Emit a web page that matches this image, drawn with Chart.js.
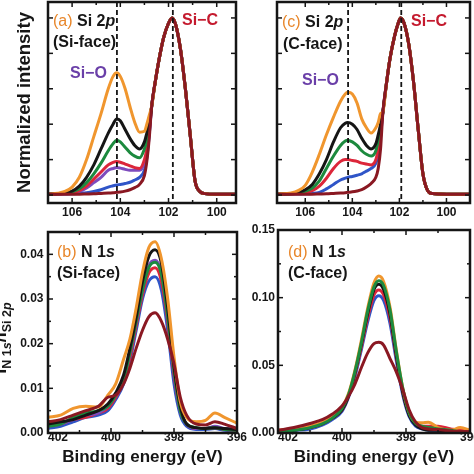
<!DOCTYPE html>
<html>
<head>
<meta charset="utf-8">
<script src="https://cdn.jsdelivr.net/npm/chart.js@4.4.0/dist/chart.umd.min.js"></script>
<style>
  body { margin: 0; width: 474px; height: 474px; overflow: hidden; background: #fff; position: relative; font-family: "Liberation Sans", Arial, sans-serif; }
  .panel { position: absolute; }
  .txt { position: absolute; white-space: nowrap; font-weight: bold; font-size: 16px; line-height: 16px; color: #161616; }
  .tag { color: #e8862a; font-weight: normal; }
  .sio { color: #6a3fa8; }
  .sic { color: #c41a2e; }
  #ratioTitle { position: absolute; left: -55px; top: 327px; width: 110px; height: 22px; line-height: 22px; text-align: center; transform: rotate(-90deg); font-weight: bold; font-size: 18px; color: #161616; white-space: nowrap; }
  #ratioTitle sub { font-size: 12.5px; }
</style>
</head>
<body>
<div class="panel" style="left:0;top:0;width:240px;height:240px"><canvas id="chartA"></canvas></div>
<div class="panel" style="left:240px;top:0;width:234px;height:240px"><canvas id="chartC"></canvas></div>
<div class="panel" style="left:0;top:220px;width:262px;height:254px"><canvas id="chartB"></canvas></div>
<div class="panel" style="left:240px;top:220px;width:234px;height:254px"><canvas id="chartD"></canvas></div>

<div class="txt" style="left:53px;top:13px"><span class="tag">(a)</span> Si 2<i>p</i></div>
<div class="txt" style="left:53px;top:34px">(Si-face)</div>
<div class="txt sio" style="left:70px;top:65px">Si−O</div>
<div class="txt sic" style="left:182px;top:12px">Si−C</div>

<div class="txt" style="left:282px;top:14px"><span class="tag">(c)</span> Si 2<i>p</i></div>
<div class="txt" style="left:283px;top:36px">(C-face)</div>
<div class="txt sio" style="left:302px;top:72px">Si−O</div>
<div class="txt sic" style="left:411px;top:13px">Si−C</div>

<div class="txt" style="left:57px;top:244px"><span class="tag">(b)</span> N 1<i>s</i></div>
<div class="txt" style="left:57px;top:265px">(Si-face)</div>

<div class="txt" style="left:288px;top:244px"><span class="tag">(d)</span> N 1<i>s</i></div>
<div class="txt" style="left:288px;top:265px">(C-face)</div>

<div id="ratioTitle">I<sub>N 1<i>s</i></sub>/I<sub>Si 2<i>p</i></sub></div>

<script>
const ORANGE = '#f0962e';
const BLACK = '#151515';
const GREEN = '#1c8a3e';
const RED = '#dc263a';
const PURPLE = '#7d4bbd';
const BLUE = '#2f55c8';
const MAROON = '#8a1822';

// (a) Si 2p, Si-face
const siEnergyA = [107.0, 106.6, 106.3, 106.0, 105.7, 105.4, 105.1, 104.8, 104.5, 104.3, 104.15, 104.0, 103.8, 103.6, 103.4, 103.2, 103.0, 102.9, 102.8,
  102.7, 102.55, 102.4, 102.2, 102.0, 101.85, 101.7, 101.5, 101.3, 101.1, 100.9, 100.7, 100.5, 100.0, 99.2];
const siFlankA = [0.50, 0.64, 0.76, 0.89, 0.97, 1.0, 0.96, 0.82, 0.6, 0.34, 0.08, 0.02, 0.008, 0.005, 0.005];
const siOrangeA = [0.005, 0.01, 0.02, 0.045, 0.1, 0.2, 0.33, 0.46, 0.6, 0.67, 0.69, 0.67, 0.6, 0.5, 0.41, 0.355, 0.36, 0.40, 0.45];
const siBlackA = [0.005, 0.008, 0.012, 0.022, 0.05, 0.1, 0.17, 0.26, 0.35, 0.4, 0.43, 0.42, 0.37, 0.32, 0.28, 0.26, 0.3, 0.35, 0.41];
const siGreenA = [0.005, 0.007, 0.01, 0.018, 0.035, 0.07, 0.12, 0.18, 0.25, 0.29, 0.31, 0.3, 0.27, 0.24, 0.22, 0.21, 0.26, 0.31, 0.38];
const siRedA = [0.005, 0.006, 0.008, 0.012, 0.025, 0.05, 0.09, 0.13, 0.17, 0.185, 0.19, 0.185, 0.175, 0.165, 0.155, 0.15, 0.2, 0.26, 0.36];
const siPurpleA = [0.005, 0.006, 0.007, 0.01, 0.02, 0.04, 0.07, 0.1, 0.14, 0.15, 0.155, 0.152, 0.145, 0.14, 0.14, 0.14, 0.18, 0.24, 0.35];
const siBlueA = [0.005, 0.005, 0.006, 0.007, 0.01, 0.013, 0.02, 0.03, 0.045, 0.052, 0.057, 0.06, 0.065, 0.072, 0.085, 0.1, 0.14, 0.21, 0.34];
const siMaroonA = [0.005, 0.005, 0.005, 0.005, 0.005, 0.006, 0.007, 0.009, 0.011, 0.013, 0.015, 0.017, 0.022, 0.03, 0.042, 0.06, 0.11, 0.19, 0.32];
const peakLinesA = [104.14, 101.82];

// (c) Si 2p, C-face
const siEnergyC = [107.2, 106.6, 106.3, 106.0, 105.7, 105.4, 105.1, 104.8, 104.5, 104.3, 104.2, 104.0, 103.8, 103.6, 103.4, 103.2, 103.0, 102.9, 102.8,
  102.7, 102.55, 102.4, 102.2, 102.05, 101.95, 101.8, 101.6, 101.4, 101.2, 101.0, 100.8, 100.6, 100.0, 99.0];
const siFlankC = [0.47, 0.63, 0.77, 0.9, 0.97, 1.0, 0.97, 0.85, 0.64, 0.37, 0.12, 0.025, 0.008, 0.005, 0.005];
const siOrangeC = [0.005, 0.012, 0.025, 0.055, 0.13, 0.23, 0.34, 0.44, 0.53, 0.57, 0.58, 0.57, 0.52, 0.43, 0.38, 0.35, 0.38, 0.41, 0.46];
const siBlackC = [0.005, 0.008, 0.015, 0.03, 0.06, 0.12, 0.2, 0.3, 0.38, 0.405, 0.41, 0.4, 0.37, 0.32, 0.28, 0.26, 0.29, 0.34, 0.4];
const siGreenC = [0.005, 0.007, 0.012, 0.022, 0.04, 0.08, 0.15, 0.22, 0.28, 0.305, 0.31, 0.3, 0.28, 0.25, 0.23, 0.22, 0.25, 0.31, 0.38];
const siRedC = [0.005, 0.006, 0.009, 0.015, 0.025, 0.05, 0.095, 0.15, 0.19, 0.2, 0.2, 0.195, 0.19, 0.18, 0.175, 0.17, 0.2, 0.26, 0.35];
const siBlueC = [0.005, 0.005, 0.006, 0.007, 0.009, 0.015, 0.035, 0.06, 0.085, 0.095, 0.1, 0.105, 0.112, 0.12, 0.135, 0.15, 0.18, 0.23, 0.33];
const siMaroonC = [0.005, 0.005, 0.005, 0.005, 0.005, 0.006, 0.007, 0.009, 0.011, 0.013, 0.015, 0.018, 0.023, 0.03, 0.045, 0.065, 0.1, 0.15, 0.26];
const peakLinesC = [104.18, 101.92];

// (b) N 1s, Si-face
const nEnergyB = [402, 401.6, 401.2, 400.8, 400.4, 400.1, 399.85, 399.6, 399.4, 399.2, 399.0, 398.8, 398.6, 398.4, 398.2, 398.0, 397.8, 397.6, 397.3, 397.0, 396.7, 396.4, 396.0];
const nOrangeB = [0.0035, 0.004, 0.0055, 0.006, 0.0058, 0.0085, 0.011, 0.0165, 0.021, 0.028, 0.036, 0.0415, 0.0428, 0.039, 0.03, 0.017, 0.007, 0.0035, 0.0025, 0.0028, 0.0045, 0.0035, 0.0022];
const nBlackB = [0.002, 0.0025, 0.003, 0.004, 0.005, 0.0065, 0.009, 0.013, 0.019, 0.026, 0.034, 0.0395, 0.041, 0.038, 0.028, 0.015, 0.006, 0.002, 0.0012, 0.001, 0.0012, 0.001, 0.0008];
const nGreenB = [0.0015, 0.002, 0.0035, 0.0045, 0.005, 0.006, 0.0085, 0.012, 0.018, 0.025, 0.032, 0.037, 0.0382, 0.0355, 0.026, 0.014, 0.005, 0.002, 0.0012, 0.001, 0.0012, 0.0008, 0.0006];
const nRedB = [0.0015, 0.002, 0.003, 0.0035, 0.0045, 0.0055, 0.008, 0.0115, 0.017, 0.024, 0.031, 0.0358, 0.037, 0.034, 0.025, 0.013, 0.005, 0.002, 0.001, 0.001, 0.0012, 0.0008, 0.0006];
const nPurpleB = [0.0015, 0.002, 0.003, 0.004, 0.0045, 0.006, 0.0085, 0.012, 0.018, 0.025, 0.032, 0.0375, 0.0387, 0.036, 0.027, 0.014, 0.005, 0.002, 0.001, 0.001, 0.0015, 0.001, 0.0008];
const nBlueB = [0.001, 0.0015, 0.0025, 0.0035, 0.004, 0.005, 0.0075, 0.011, 0.016, 0.023, 0.03, 0.034, 0.035, 0.032, 0.023, 0.011, 0.004, 0.0015, 0.0008, 0.0008, 0.001, 0.0006, 0.0005];
const nMaroonB = [0.0025, 0.003, 0.004, 0.005, 0.006, 0.008, 0.0085, 0.011, 0.0145, 0.019, 0.023, 0.026, 0.0269, 0.025, 0.021, 0.0155, 0.008, 0.004, 0.002, 0.0018, 0.0025, 0.002, 0.001];

// (d) N 1s, C-face
const nEnergyD = [402, 401.5, 401.0, 400.6, 400.3, 400.0, 399.8, 399.6, 399.4, 399.2, 399.0, 398.85, 398.7, 398.5, 398.3, 398.1, 397.9, 397.7, 397.5, 397.3, 397.0, 396.6, 396.3, 396.0];
const nOrangeD = [0.002, 0.003, 0.005, 0.008, 0.012, 0.019, 0.029, 0.046, 0.068, 0.092, 0.111, 0.116, 0.112, 0.093, 0.061, 0.033, 0.015, 0.008, 0.0075, 0.008, 0.004, 0.002, 0.004, 0.002];
const nGreenD = [0.001, 0.002, 0.004, 0.007, 0.011, 0.018, 0.028, 0.045, 0.066, 0.09, 0.108, 0.1125, 0.109, 0.091, 0.06, 0.033, 0.015, 0.007, 0.005, 0.004, 0.003, 0.002, 0.001, 0.001];
const nBlackD = [0.001, 0.002, 0.004, 0.007, 0.011, 0.017, 0.027, 0.044, 0.065, 0.088, 0.106, 0.11, 0.106, 0.088, 0.057, 0.03, 0.013, 0.006, 0.003, 0.002, 0.002, 0.001, 0.001, 0.001];
const nRedD = [0.002, 0.003, 0.004, 0.007, 0.011, 0.017, 0.027, 0.043, 0.063, 0.085, 0.102, 0.1057, 0.102, 0.085, 0.056, 0.03, 0.014, 0.007, 0.005, 0.005, 0.005, 0.003, 0.002, 0.002];
const nBlueD = [0.001, 0.002, 0.003, 0.006, 0.01, 0.016, 0.026, 0.041, 0.061, 0.082, 0.098, 0.1015, 0.098, 0.081, 0.053, 0.028, 0.012, 0.005, 0.003, 0.002, 0.002, 0.001, 0.001, 0.001];
const nMaroonD = [0.002, 0.004, 0.007, 0.01, 0.014, 0.02, 0.027, 0.036, 0.048, 0.059, 0.066, 0.067, 0.065, 0.055, 0.045, 0.032, 0.017, 0.008, 0.004, 0.003, 0.0025, 0.0015, 0.0012, 0.001];

// ticks
const siMajor = [106, 104, 102, 100];
const siMinor = [105, 103, 101];
const siYTicks = [0, 0.2, 0.4, 0.6, 0.8, 1.0];
const nMajor = [402, 400, 398, 396];
const nMinor = [401, 399, 397];
const nYMajorB = [0, 0.01, 0.02, 0.03, 0.04];
const nYMinorB = [0.005, 0.015, 0.025, 0.035];
const nYMajorD = [0, 0.05, 0.10, 0.15];
const nYMinorD = [0.025, 0.075, 0.125];

const FONT = '"Liberation Sans", Arial, sans-serif';
Chart.defaults.font.family = FONT;

// box, inward ticks on four sides, tick labels and dashed peak lines
const axisFrame = {
  id: 'axisFrame',
  afterDatasetsDraw(chart, args, opts) {
    const { ctx, chartArea: area, scales: { x, y } } = chart;
    const line = (x1, y1, x2, y2) => { ctx.beginPath(); ctx.moveTo(x1, y1); ctx.lineTo(x2, y2); ctx.stroke(); };
    ctx.save();
    ctx.strokeStyle = '#151515';

    ctx.lineWidth = 1.8;
    ctx.setLineDash([5, 3]);
    (opts.dashed || []).forEach(v => {
      const px = x.getPixelForValue(v);
      line(px, area.top, px, area.bottom);
    });
    ctx.setLineDash([]);

    ctx.lineWidth = 1.5;
    const xTicks = (vals, len) => vals.forEach(v => {
      const px = x.getPixelForValue(v);
      line(px, area.bottom, px, area.bottom - len);
      line(px, area.top, px, area.top + len);
    });
    const yTicks = (vals, len) => vals.forEach(v => {
      const py = y.getPixelForValue(v);
      line(area.left, py, area.left + len, py);
      line(area.right, py, area.right - len, py);
    });
    xTicks(opts.xMajor, 5);
    xTicks(opts.xMinor, 3);
    yTicks(opts.yMajor, 5);
    yTicks(opts.yMinor || [], 3);

    ctx.lineWidth = 2.5;
    ctx.strokeRect(area.left, area.top, area.right - area.left, area.bottom - area.top);

    ctx.fillStyle = '#161616';
    ctx.font = 'bold 12px ' + FONT;
    ctx.textBaseline = 'middle';
    opts.xMajor.forEach(v => {
      const px = x.getPixelForValue(v);
      ctx.textAlign = Math.abs(px - area.left) < 2 ? 'left' : 'center';
      ctx.fillText(String(v), px, area.bottom + opts.xGap);
    });
    if (opts.yLabels) {
      ctx.textAlign = 'right';
      opts.yMajor.forEach(v => {
        ctx.fillText(v.toFixed(2), area.left - opts.yGap, y.getPixelForValue(v));
      });
    }
    ctx.restore();
  }
};

function series(energy, values, color) {
  return {
    data: energy.map((e, i) => ({ x: e, y: values[i] })),
    borderColor: color,
    borderWidth: 3,
    pointRadius: 0,
    fill: false,
    cubicInterpolationMode: 'monotone'
  };
}

function makePanel(id, cfg) {
  return new Chart(document.getElementById(id), {
    type: 'line',
    data: { datasets: cfg.datasets },
    options: {
      responsive: true,
      maintainAspectRatio: false,
      animation: false,
      layout: { padding: cfg.padding },
      plugins: { legend: { display: false }, tooltip: { enabled: false }, axisFrame: cfg.frame },
      scales: {
        x: {
          type: 'linear', reverse: true, min: cfg.xMin, max: cfg.xMax,
          ticks: { display: false }, grid: { display: false }, border: { display: false },
          title: cfg.xTitle || { display: false },
          afterFit: s => { s.height = cfg.xHeight; }
        },
        y: {
          type: 'linear', min: cfg.yMin, max: cfg.yMax,
          ticks: { display: false }, grid: { display: false }, border: { display: false },
          title: cfg.yTitle || { display: false },
          afterFit: s => { s.width = cfg.yWidth; }
        }
      }
    },
    plugins: [axisFrame]
  });
}

const energyTitle = {
  display: true, text: 'Binding energy (eV)', color: '#161616',
  font: { size: 17, weight: 'bold' }, padding: { top: 0, bottom: 6 }
};

makePanel('chartA', {
  datasets: [
    series(siEnergyA, siMaroonA.concat(siFlankA), MAROON),
    series(siEnergyA, siOrangeA.concat(siFlankA), ORANGE),
    series(siEnergyA, siBlackA.concat(siFlankA), BLACK),
    series(siEnergyA, siGreenA.concat(siFlankA), GREEN),
    series(siEnergyA, siRedA.concat(siFlankA), RED),
    series(siEnergyA, siPurpleA.concat(siFlankA), PURPLE),
    series(siEnergyA, siBlueA.concat(siFlankA), BLUE)
  ],
  padding: { left: 0, top: 2, right: 4, bottom: 0 },
  xMin: 99.2, xMax: 107.0, yMin: -0.045, yMax: 1.09,
  xHeight: 37, yWidth: 48,
  yTitle: { display: true, text: 'Normalized intensity', color: '#161616', font: { size: 18.5, weight: 'bold' }, padding: { top: 14, bottom: 0 } },
  frame: { dashed: peakLinesA, xMajor: siMajor, xMinor: siMinor, yMajor: siYTicks, xGap: 9.5 }
});

makePanel('chartC', {
  datasets: [
    series(siEnergyC, siMaroonC.concat(siFlankC), MAROON),
    series(siEnergyC, siOrangeC.concat(siFlankC), ORANGE),
    series(siEnergyC, siBlackC.concat(siFlankC), BLACK),
    series(siEnergyC, siGreenC.concat(siFlankC), GREEN),
    series(siEnergyC, siRedC.concat(siFlankC), RED),
    series(siEnergyC, siBlueC.concat(siFlankC), BLUE)
  ],
  padding: { left: 0, top: 2, right: 4, bottom: 0 },
  xMin: 99.0, xMax: 107.2, yMin: -0.045, yMax: 1.09,
  xHeight: 37, yWidth: 37,
  frame: { dashed: peakLinesC, xMajor: siMajor, xMinor: siMinor, yMajor: siYTicks, xGap: 9.5 }
});

makePanel('chartB', {
  datasets: [
    series(nEnergyB, nMaroonB, MAROON),
    series(nEnergyB, nOrangeB, ORANGE),
    series(nEnergyB, nBlackB, BLACK),
    series(nEnergyB, nGreenB, GREEN),
    series(nEnergyB, nPurpleB, PURPLE),
    series(nEnergyB, nRedB, RED),
    series(nEnergyB, nBlueB, BLUE)
  ],
  padding: { left: 0, top: 12, right: 25, bottom: 0 },
  xMin: 396, xMax: 402, yMin: 0, yMax: 0.045,
  xHeight: 41, yWidth: 48,
  xTitle: energyTitle,
  frame: { xMajor: nMajor, xMinor: nMinor, yMajor: nYMajorB, yMinor: nYMinorB, yLabels: true, xGap: 4.5, yGap: 4.5 }
});

makePanel('chartD', {
  datasets: [
    series(nEnergyD, nMaroonD, MAROON),
    series(nEnergyD, nGreenD, GREEN),
    series(nEnergyD, nOrangeD, ORANGE),
    series(nEnergyD, nBlackD, BLACK),
    series(nEnergyD, nRedD, RED),
    series(nEnergyD, nBlueD, BLUE)
  ],
  padding: { left: 0, top: 10, right: 4, bottom: 0 },
  xMin: 396, xMax: 402, yMin: 0, yMax: 0.15,
  xHeight: 41, yWidth: 38,
  xTitle: energyTitle,
  frame: { xMajor: nMajor, xMinor: nMinor, yMajor: nYMajorD, yMinor: nYMinorD, yLabels: true, xGap: 4.5, yGap: 3 }
});
</script>
</body>
</html>
